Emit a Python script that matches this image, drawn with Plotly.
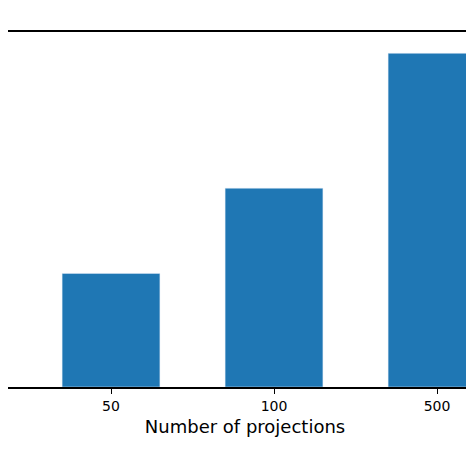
import plotly.graph_objects as go

categories = ["50", "100", "500"]
values = [0.32, 0.56, 0.94]

fig = go.Figure(go.Bar(x=[0, 1, 2], y=values, width=0.6, marker_color="#1f77b4"))
fig.update_layout(
    width=474, height=474, margin=dict(l=0, r=0, t=24, b=95),
    plot_bgcolor="white", paper_bgcolor="white", showlegend=False,
    font=dict(family="DejaVu Sans", color="black"),
)
fig.update_xaxes(range=[-0.632, 2.276], tickvals=[0, 1, 2], ticktext=categories,
                 showline=True, linecolor="black", linewidth=1.5, mirror=True,
                 ticks="outside", ticklen=5, tickcolor="black", showgrid=False,
                 tickfont=dict(size=14),
                 title=dict(text="Number of projections", font=dict(size=18), standoff=8))
fig.update_yaxes(range=[0, 1.0], showgrid=False, showticklabels=False, zeroline=False)
fig.write_html("out.html")
